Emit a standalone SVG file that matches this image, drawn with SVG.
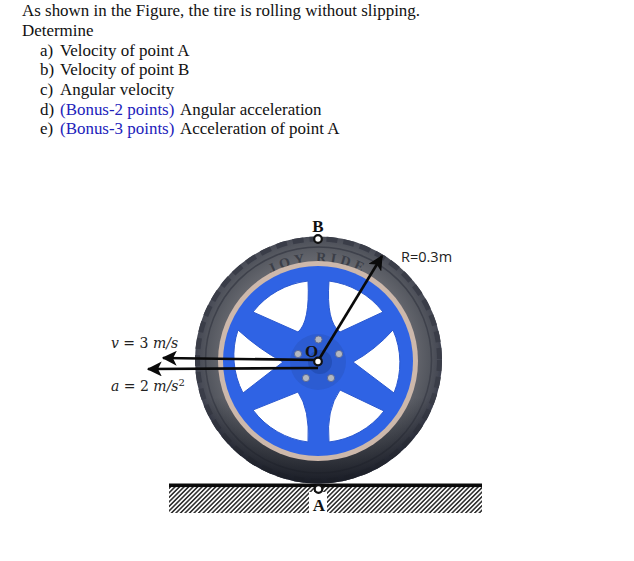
<svg xmlns="http://www.w3.org/2000/svg" width="634" height="561" viewBox="0 0 634 561">
<style>
.t{font-family:"Liberation Serif","Times New Roman",serif;font-size:16.950px;fill:#111}
.b{fill:#2222bb}
.p{font-family:"Liberation Serif",serif;font-size:17px;font-weight:bold;fill:#111;text-anchor:middle}
.m{font-family:"DejaVu Serif","Liberation Serif",serif;font-size:14px;fill:#222}
.i{font-style:italic}
.pt{fill:#fff;stroke:#111;stroke-width:2.2}
.c{fill:none;stroke:#0a0a0a;stroke-width:2.6}
.lug{fill:#b4b8c0;stroke:#5a6a9a;stroke-width:1}
.win{fill:#fff;stroke:#2a58d0;stroke-width:1}
</style>
<defs>
<marker id="ah" viewBox="0 0 12 12" refX="11" refY="6" markerWidth="15" markerHeight="15" markerUnits="userSpaceOnUse" orient="auto"><path d="M0 0 L12 6 L0 12 L3 6 Z" fill="#0a0a0a"/></marker>
<pattern id="hatch" width="3.2" height="3.2" patternUnits="userSpaceOnUse" patternTransform="rotate(-45)"><rect width="3.2" height="3.2" fill="#fff"/><rect width="3.2" height="1.6" fill="#333"/></pattern>
<radialGradient id="tire" gradientUnits="userSpaceOnUse" cx="318" cy="356" r="128"><stop offset="0.76" stop-color="#63656c"/><stop offset="0.87" stop-color="#54575f"/><stop offset="0.94" stop-color="#474a55"/><stop offset="1" stop-color="#33374a"/></radialGradient>
<linearGradient id="shade" x1="0" y1="0" x2="0" y2="1"><stop offset="0.65" stop-color="#12151d" stop-opacity="0"/><stop offset="1" stop-color="#12151d" stop-opacity="0.8"/></linearGradient>
<path id="brand" d="M248 291 A99 99 0 0 1 388 291"/>
</defs>
<g id="question">
<text class="t" x="22" y="16">As shown in the Figure, the tire is rolling without slipping.</text>
<text class="t" x="22" y="36">Determine</text>
<text class="t" x="40" y="56">a)</text><text class="t" x="60" y="56">Velocity of point A</text>
<text class="t" x="40" y="75">b)</text><text class="t" x="60" y="75">Velocity of point B</text>
<text class="t" x="40" y="95">c)</text><text class="t" x="60" y="95">Angular velocity</text>
<text class="t" x="40" y="115">d)</text><text class="t b" x="60" y="115">(Bonus-2 points)</text><text class="t" x="180" y="115">Angular acceleration</text>
<text class="t" x="40" y="134">e)</text><text class="t b" x="60" y="134">(Bonus-3 points)</text><text class="t" x="180" y="134">Acceleration of point A</text>
</g>
<g id="ground">
<rect x="169" y="486" width="313" height="27" fill="url(#hatch)"/>
<rect x="309" y="492" width="18" height="23" fill="#fff"/>
<rect x="169" y="483.500" width="313" height="3.600" fill="#0a0a0a"/>
</g>
<g id="wheel">
<circle cx="318.500" cy="360" r="123.500" fill="url(#tire)"/>
<circle cx="318.500" cy="360" r="121" fill="none" stroke="#3a3d48" stroke-width="5" stroke-dasharray="11 6"/>
<circle cx="318.500" cy="360" r="113" fill="none" stroke="#3e414b" stroke-width="1.500"/>
<circle cx="318.500" cy="360" r="123.500" fill="url(#shade)"/>
<text font-family="Liberation Serif,serif" font-size="14" font-weight="bold" fill="#3b3e47" text-anchor="middle" letter-spacing="4"><textPath href="#brand" startOffset="50%">JOY RIDE</textPath></text>
<circle cx="318" cy="361" r="100" fill="#cdb8ab"/>
<circle cx="318" cy="361" r="95" fill="#2f63e4"/>
<path class="win" d="M308 281 A81 81 0 0 0 253 312 L298 332 Q310 322 308 281Z"/>
<path class="win" d="M329 281 A81 81 0 0 1 383 312 L340 332 Q326 322 329 281Z"/>
<path class="win" d="M393 330 A81 81 0 0 1 394 393 L353 362 Q375 350 393 330Z"/>
<path class="win" d="M238 330 A81 81 0 0 0 243 393 L283 362 Q260 350 238 330Z"/>
<path class="win" d="M384 411 A81 81 0 0 1 329 442 Q326 410 340 390Z"/>
<path class="win" d="M253 410 A81 81 0 0 0 308 442 Q310 410 298 392Z"/>
<circle cx="318" cy="362" r="28" fill="#2c5cd2"/>
<circle cx="320" cy="362" r="12" fill="#2450ba"/>
<g class="lug"><circle cx="318.500" cy="339.500" r="3.600"/><circle cx="298" cy="354" r="3.600"/><circle cx="339" cy="354" r="3.600"/><circle cx="306" cy="378" r="3.600"/><circle cx="331" cy="378" r="3.600"/></g>
</g>
<g id="labels">
<text class="m i" x="111" y="348">v<tspan class="m" font-style="normal"> = 3 </tspan>m/s</text>
<text class="m i" x="111" y="391">a<tspan class="m" font-style="normal"> = 2 </tspan>m/s<tspan font-size="10" dy="-5" font-style="normal">2</tspan></text>
<text x="401" y="262" font-family="Open Sans,DejaVu Sans,sans-serif" font-size="14.500" fill="#222">R=0.3m</text>
</g>
<g id="connectors">
<line class="c" x1="318" y1="360" x2="163" y2="358" marker-end="url(#ah)"/>
<line class="c" x1="318" y1="368" x2="148" y2="369" marker-end="url(#ah)"/>
<line class="c" x1="318" y1="361" x2="382" y2="256" marker-end="url(#ah)"/>
</g>
<g id="point-O"><text class="p" x="311.500" y="357">O</text><circle class="pt" cx="318" cy="361.500" r="3.800"/></g>
<g id="point-B"><text class="p" x="318" y="232">B</text><circle class="pt" cx="318" cy="239" r="3.800"/></g>
<g id="point-A"><circle class="pt" cx="318.500" cy="489" r="3.800"/><text class="p" x="319" y="511">A</text></g>
</svg>
